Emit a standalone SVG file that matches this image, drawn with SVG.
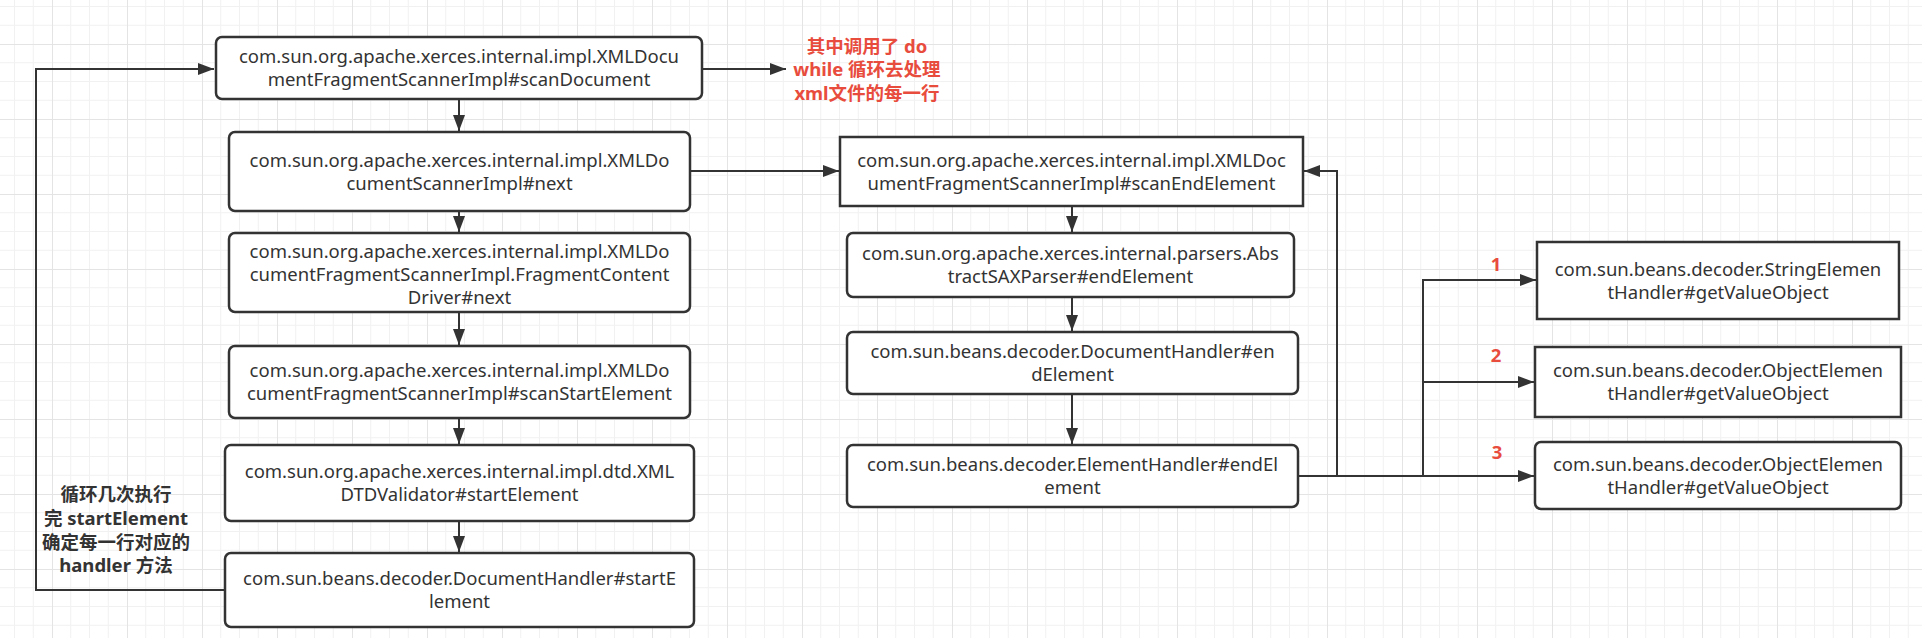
<svg xmlns="http://www.w3.org/2000/svg" width="1922" height="638" viewBox="0 0 1922 638">
<style>
.box{fill:#fff;stroke:#333;stroke-width:2.5}
.t{font-family:"Noto Sans","Noto Sans CJK SC",sans-serif;font-size:18.5px;fill:#333;text-anchor:middle}
.c{fill:none;stroke:#333;stroke-width:2}
.red{font-family:"Noto Sans","Noto Sans CJK SC",sans-serif;font-size:18.5px;font-weight:bold;fill:#e84c3d;text-anchor:middle}
.note{font-family:"Noto Sans","Noto Sans CJK SC",sans-serif;font-size:18.5px;font-weight:bold;fill:#333;text-anchor:middle}
</style>
<defs>
<pattern id="grid" x="-23" y="-31" width="75" height="75" patternUnits="userSpaceOnUse">
<path d="M18.75 0V75M37.5 0V75M56.25 0V75M0 18.75H75M0 37.5H75M0 56.25H75" stroke="#f1f1f1" stroke-width="1" fill="none"/>
<path d="M0.5 0V75M0 0.5H75" stroke="#e4e4e4" stroke-width="1" fill="none"/>
</pattern>
<marker id="arr" markerUnits="userSpaceOnUse" markerWidth="16" markerHeight="12" refX="16" refY="6" orient="auto">
<path d="M0,0 L16,6 L0,12 z" fill="#333"/>
</marker>
</defs>
<rect width="1922" height="638" fill="#fff"/>
<rect width="1922" height="638" fill="url(#grid)"/>

<g id="connectors">
<path class="c" d="M225,590 H36 V69 H214" marker-end="url(#arr)"/>
<path class="c" d="M702,69 H786" marker-end="url(#arr)"/>
<path class="c" d="M459,99 V131" marker-end="url(#arr)"/>
<path class="c" d="M459,211 V232" marker-end="url(#arr)"/>
<path class="c" d="M459,312 V345" marker-end="url(#arr)"/>
<path class="c" d="M459,418 V444" marker-end="url(#arr)"/>
<path class="c" d="M459,521 V552" marker-end="url(#arr)"/>
<path class="c" d="M690,171 H839" marker-end="url(#arr)"/>
<path class="c" d="M1072,206 V232" marker-end="url(#arr)"/>
<path class="c" d="M1072,297 V331" marker-end="url(#arr)"/>
<path class="c" d="M1072,394 V444" marker-end="url(#arr)"/>
<path class="c" d="M1298,476 H1534" marker-end="url(#arr)"/>
<path class="c" d="M1337,476 V171 H1304" marker-end="url(#arr)"/>
<path class="c" d="M1423,476 V280 H1536" marker-end="url(#arr)"/>
<path class="c" d="M1423,382 H1534" marker-end="url(#arr)"/>
</g>

<g id="n1"><rect class="box" x="216" y="37" width="486" height="62" rx="6"/>
<text class="t" x="459" y="63">com.sun.org.apache.xerces.internal.impl.XMLDocu</text>
<text class="t" x="459" y="86">mentFragmentScannerImpl#scanDocument</text></g>

<g id="n2"><rect class="box" x="229" y="132" width="461" height="79" rx="6"/>
<text class="t" x="459.5" y="166.5">com.sun.org.apache.xerces.internal.impl.XMLDo</text>
<text class="t" x="459.5" y="189.5">cumentScannerImpl#next</text></g>

<g id="n3"><rect class="box" x="229" y="233" width="461" height="79" rx="6"/>
<text class="t" x="459.5" y="257.5">com.sun.org.apache.xerces.internal.impl.XMLDo</text>
<text class="t" x="459.5" y="280.5">cumentFragmentScannerImpl.FragmentContent</text>
<text class="t" x="459.5" y="303.5">Driver#next</text></g>

<g id="n4"><rect class="box" x="229" y="346" width="461" height="72" rx="6"/>
<text class="t" x="459.5" y="377">com.sun.org.apache.xerces.internal.impl.XMLDo</text>
<text class="t" x="459.5" y="400">cumentFragmentScannerImpl#scanStartElement</text></g>

<g id="n5"><rect class="box" x="225" y="445" width="469" height="76" rx="6"/>
<text class="t" x="459.5" y="478">com.sun.org.apache.xerces.internal.impl.dtd.XML</text>
<text class="t" x="459.5" y="501">DTDValidator#startElement</text></g>

<g id="n6"><rect class="box" x="225" y="553" width="469" height="74" rx="6"/>
<text class="t" x="459.5" y="585">com.sun.beans.decoder.DocumentHandler#startE</text>
<text class="t" x="459.5" y="608">lement</text></g>

<g id="n7"><rect class="box" x="840" y="137" width="463" height="69"/>
<text class="t" x="1071.5" y="166.5">com.sun.org.apache.xerces.internal.impl.XMLDoc</text>
<text class="t" x="1071.5" y="189.5">umentFragmentScannerImpl#scanEndElement</text></g>

<g id="n8"><rect class="box" x="847" y="233" width="447" height="64" rx="6"/>
<text class="t" x="1070.5" y="260">com.sun.org.apache.xerces.internal.parsers.Abs</text>
<text class="t" x="1070.5" y="283">tractSAXParser#endElement</text></g>

<g id="n9"><rect class="box" x="847" y="332" width="451" height="62" rx="6"/>
<text class="t" x="1072.5" y="358">com.sun.beans.decoder.DocumentHandler#en</text>
<text class="t" x="1072.5" y="381">dElement</text></g>

<g id="n10"><rect class="box" x="847" y="445" width="451" height="62" rx="6"/>
<text class="t" x="1072.5" y="471">com.sun.beans.decoder.ElementHandler#endEl</text>
<text class="t" x="1072.5" y="494">ement</text></g>

<g id="n11"><rect class="box" x="1537" y="242" width="362" height="77"/>
<text class="t" x="1718" y="275.5">com.sun.beans.decoder.StringElemen</text>
<text class="t" x="1718" y="298.5">tHandler#getValueObject</text></g>

<g id="n12"><rect class="box" x="1535" y="347" width="366" height="70"/>
<text class="t" x="1718" y="377">com.sun.beans.decoder.ObjectElemen</text>
<text class="t" x="1718" y="400">tHandler#getValueObject</text></g>

<g id="n13"><rect class="box" x="1535" y="442" width="366" height="67" rx="6"/>
<text class="t" x="1718" y="470.5">com.sun.beans.decoder.ObjectElemen</text>
<text class="t" x="1718" y="493.5">tHandler#getValueObject</text></g>

<g id="note-red">
<text class="red" x="867" y="52.5">其中调用了 do</text>
<text class="red" x="867" y="76">while 循环去处理</text>
<text class="red" x="867" y="99.5">xml文件的每一行</text>
</g>

<g id="note-loop">
<text class="note" x="116" y="500.5">循环几次执行</text>
<text class="note" x="116" y="524.5">完 startElement</text>
<text class="note" x="116" y="548.5">确定每一行对应的</text>
<text class="note" x="116" y="571.5">handler 方法</text>
</g>

<g id="labels">
<text class="red" x="1496" y="270.5">1</text>
<text class="red" x="1496" y="361.5">2</text>
<text class="red" x="1497" y="458.5">3</text>
</g>
</svg>
